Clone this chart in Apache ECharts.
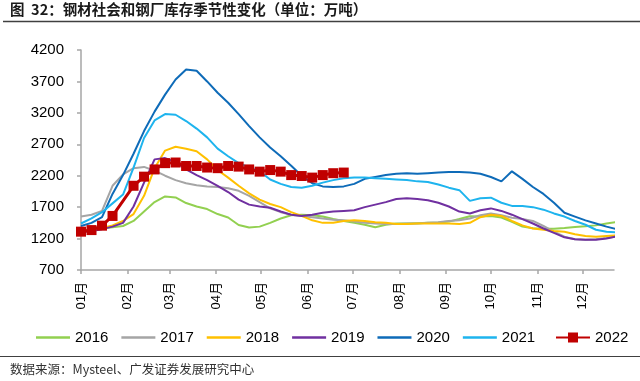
<!DOCTYPE html>
<html>
<head>
<meta charset="utf-8">
<script src="https://cdn.jsdelivr.net/npm/echarts@6/dist/echarts.min.js"></script>
<style>
html,body{margin:0;padding:0;background:#fff;}
#chart{width:640px;height:381px;}
</style>
</head>
<body>
<div id="chart"></div>
<script>
// weekly reference dates (one calendar year)
const weekDates = ['2022-01-01','2022-01-08','2022-01-15','2022-01-22','2022-01-29','2022-02-05','2022-02-12','2022-02-19','2022-02-26','2022-03-05','2022-03-12','2022-03-19','2022-03-26','2022-04-02','2022-04-09','2022-04-16','2022-04-23','2022-04-30','2022-05-07','2022-05-14','2022-05-21','2022-05-28','2022-06-04','2022-06-11','2022-06-18','2022-06-25','2022-07-02','2022-07-09','2022-07-16','2022-07-23','2022-07-30','2022-08-06','2022-08-13','2022-08-20','2022-08-27','2022-09-03','2022-09-10','2022-09-17','2022-09-24','2022-10-01','2022-10-08','2022-10-15','2022-10-22','2022-10-29','2022-11-05','2022-11-12','2022-11-19','2022-11-26','2022-12-03','2022-12-10','2022-12-17','2022-12-24'];
// 2022 weeks (Spring Festival week missing)
const dates2022 = ['2022-01-01','2022-01-08','2022-01-15','2022-01-22','2022-02-05','2022-02-12','2022-02-19','2022-02-26','2022-03-05','2022-03-12','2022-03-19','2022-03-26','2022-04-02','2022-04-09','2022-04-16','2022-04-23','2022-04-30','2022-05-07','2022-05-14','2022-05-21','2022-05-28','2022-06-04','2022-06-11','2022-06-18','2022-06-25'];
const monthLabels = ['01月','02月','03月','04月','05月','06月','07月','08月','09月','10月','11月','12月'];
const yTicks = [700, 1200, 1700, 2200, 2700, 3200, 3700, 4200];

const s2016 = [1330,1340,1360,1380,1400,1480,1630,1780,1870,1855,1765,1710,1670,1590,1535,1415,1375,1390,1450,1520,1570,1580,1570,1550,1510,1480,1450,1420,1380,1420,1440,1440,1445,1450,1455,1470,1510,1555,1550,1558,1535,1465,1390,1365,1355,1357,1370,1385,1395,1410,1440,1465];
const s2017 = [1550,1580,1640,2040,2220,2320,2340,2280,2200,2130,2080,2050,2030,2020,2000,1960,1880,1780,1680,1620,1580,1560,1540,1520,1500,1490,1470,1450,1440,1430,1430,1440,1440,1450,1460,1480,1490,1520,1570,1600,1570,1530,1510,1480,1400,1310,1230,1190,1180,1190,1210,1235];
const s2018 = [1320,1340,1370,1410,1480,1590,1880,2320,2600,2660,2630,2590,2460,2290,2170,2040,1920,1820,1750,1700,1620,1560,1490,1450,1450,1480,1490,1480,1460,1450,1430,1430,1440,1440,1440,1440,1430,1450,1540,1580,1560,1480,1410,1360,1340,1320,1310,1270,1240,1230,1240,1250];
const s2019 = [1300,1320,1350,1390,1450,1710,2090,2460,2480,2420,2300,2210,2130,2040,1940,1820,1740,1710,1690,1630,1580,1560,1580,1610,1630,1640,1650,1700,1740,1780,1830,1840,1830,1810,1770,1710,1630,1600,1650,1680,1640,1580,1510,1440,1360,1290,1220,1190,1180,1180,1200,1235];
const s2020 = [1400,1450,1540,1910,2210,2550,2910,3220,3490,3730,3890,3870,3700,3520,3360,3180,2990,2810,2650,2510,2360,2200,2080,2030,2020,2030,2070,2150,2180,2210,2230,2240,2230,2240,2250,2260,2260,2250,2230,2180,2110,2270,2150,2020,1910,1770,1610,1550,1490,1440,1390,1350];
const s2021 = [1440,1520,1620,1760,1900,2330,2800,3080,3180,3170,3070,2950,2810,2630,2510,2400,2330,2270,2140,2070,2020,2010,2040,2090,2130,2160,2170,2170,2160,2150,2140,2130,2110,2100,2060,2010,1970,1800,1840,1850,1770,1720,1720,1700,1660,1600,1550,1480,1420,1340,1310,1300];
const s2022 = [1310,1335,1405,1560,2040,2185,2300,2400,2410,2355,2355,2330,2320,2355,2345,2300,2265,2290,2265,2210,2195,2170,2210,2240,2250];

const seriesNames = ['2016','2017','2018','2019','2020','2021','2022'];
const seriesColors = ['#92D050','#A5A5A5','#FFC000','#7030A0','#0E6BB8','#1EB4EE','#C00000'];

const FONT = '"Liberation Sans", Arial, "Noto Sans CJK SC", sans-serif';
const CJK = '"Noto Sans CJK SC", "Liberation Sans", sans-serif';
const MONTH = 31 * 24 * 3600 * 1000;

function zip(dates, vals) { return vals.map((v, i) => [dates[i], v]); }

const chart = echarts.init(document.getElementById('chart'), null, {renderer: 'canvas'});

const lineData = [s2016, s2017, s2018, s2019, s2020, s2021];
const series = lineData.map((vals, k) => ({
  name: seriesNames[k],
  type: 'line',
  data: zip(weekDates, vals),
  symbol: 'none',
  clip: true,
  lineStyle: {width: 2, color: seriesColors[k]},
  itemStyle: {color: seriesColors[k]},
  emphasis: {disabled: true},
  animation: false
}));
series.push({
  name: '2022',
  type: 'line',
  data: zip(dates2022, s2022),
  symbol: 'rect',
  symbolSize: 10,
  showAllSymbol: true,
  clip: true,
  lineStyle: {width: 3, color: seriesColors[6]},
  itemStyle: {color: seriesColors[6]},
  emphasis: {disabled: true},
  animation: false,
  z: 5
});

const legendText = {fontSize: 15, color: '#000', fontFamily: FONT};

chart.setOption({
  animation: false,
  backgroundColor: '#fff',
  grid: {left: 81, right: 26, top: 50, bottom: 111, containLabel: false},
  xAxis: {
    type: 'time',
    min: '2022-01-01',
    max: '2022-12-22',
    minInterval: MONTH,
    maxInterval: MONTH,
    splitNumber: 12,
    splitLine: {show: false},
    axisLine: {show: true, lineStyle: {color: '#A6A6A6', width: 1.5}},
    axisTick: {show: true, length: 4, lineStyle: {color: '#A6A6A6', width: 1.5}},
    axisLabel: {
      rotate: 90,
      margin: 12,
      fontSize: 13,
      color: '#000',
      fontFamily: FONT,
      showMinLabel: true,
      showMaxLabel: false,
      hideOverlap: false,
      interval: 0,
      formatter: function (v) {
        const d = new Date(v);
        if (d.getDate() !== 1) return '';
        return monthLabels[d.getMonth()];
      }
    }
  },
  yAxis: {
    type: 'value',
    min: 700,
    max: 4200,
    interval: 500,
    splitLine: {show: false},
    axisLine: {show: true, lineStyle: {color: '#A6A6A6', width: 1.5}},
    axisTick: {show: true, length: 4, lineStyle: {color: '#A6A6A6', width: 1.5}},
    axisLabel: {fontSize: 15, color: '#000', margin: 17, fontFamily: FONT,
      formatter: v => yTicks.indexOf(v) >= 0 ? String(v) : ''}
  },
  legend: [
    {
      data: seriesNames.slice(0, 6),
      left: 31,
      top: 325,
      orient: 'horizontal',
      width: 560,
      icon: 'rect',
      itemWidth: 34,
      itemHeight: 2.5,
      itemGap: 13,
      textStyle: legendText,
      selectedMode: false
    },
    {
      data: ['2022'],
      left: 551,
      top: 325,
      icon: 'path://M0,4.5H34V6.5H0Z M12,0.5H22V10.5H12Z',
      itemWidth: 34,
      itemHeight: 11,
      textStyle: legendText,
      selectedMode: false
    }
  ],
  graphic: [
    {type: 'text', left: 10, top: 2, style: {text: '图  32：钢材社会和钢厂库存季节性变化（单位：万吨）', fontSize: 14.5, fontWeight: 'bold', fill: '#1a1a1a', fontFamily: CJK}},
    {type: 'line', shape: {x1: 3, y1: 21.5, x2: 640, y2: 21.5}, style: {stroke: '#404040', lineWidth: 1.5}},
    {type: 'line', shape: {x1: 0, y1: 356.5, x2: 640, y2: 356.5}, style: {stroke: '#404040', lineWidth: 1}},
    {type: 'text', left: 10, top: 363, style: {text: '数据来源：Mysteel、广发证券发展研究中心', fontSize: 12.5, fill: '#333', fontFamily: CJK}}
  ],
  series: series
});
</script>
</body>
</html>
